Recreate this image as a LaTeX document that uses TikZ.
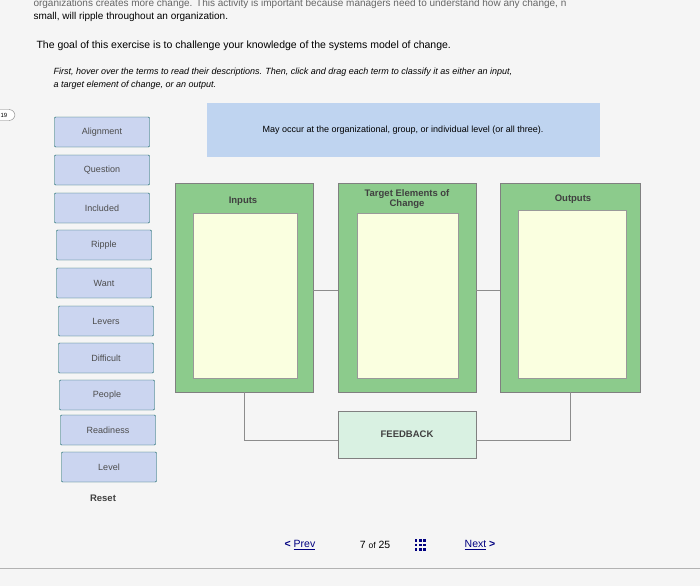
\documentclass[tikz,border=0pt]{standalone}
\usepackage{fontspec}
\setmainfont{Liberation Sans}
\begin{document}
\begin{tikzpicture}[x=1pt,y=-1pt,
  btn/.style={draw=teal!70!black,fill=cyan!45!blue!20!white,minimum width=95pt,minimum height=30pt,font=\fontsize{9}{10}\selectfont,text=black!70,rounded corners=1pt},
  col/.style={draw=black!50,fill=green!55!black!45!white,line width=0.8pt},
  inner/.style={draw=black!40,fill=green!15!yellow!12!white},
  lbl/.style={font=\bfseries\fontsize{9.5}{10}\selectfont,text=black!75,align=center},
  conn/.style={draw=black!45,line width=0.8pt}]
\fill[black!4] (0,0) rectangle (700,586);
\useasboundingbox (0,0) rectangle (700,586);
\node[anchor=west,font=\fontsize{10}{11}\selectfont,text=black!60] (t0) at (30,4) {organizations creates more change. This activity is important because managers need to understand how any change, n};
\node[anchor=west,font=\fontsize{10}{11}\selectfont] (t1) at (30,17) {small, will ripple throughout an organization.};
\node[anchor=west,font=\fontsize{10.5}{11}\selectfont] (t2) at (33,46) {The goal of this exercise is to challenge your knowledge of the systems model of change.};
\node[anchor=west,font=\itshape\fontsize{9}{13}\selectfont,align=left] (t3) at (50,79) {First, hover over the terms to read their descriptions. Then, click and drag each term to classify it as either an input,\\a target element of change, or an output.};
\node[draw=black!50,fill=white,rounded corners=6pt,font=\fontsize{6}{7}\selectfont,minimum width=22pt] (n19) at (4,115) {19};
\node[btn] (b1) at (102,132) {Alignment};
\node[btn] (b2) at (102,170) {Question};
\node[btn] (b3) at (102,208) {Included};
\node[btn] (b4) at (104,245) {Ripple};
\node[btn] (b5) at (104,283) {Want};
\node[btn] (b6) at (106,321) {Levers};
\node[btn] (b7) at (106,358) {Difficult};
\node[btn] (b8) at (107,395) {People};
\node[btn] (b9) at (108,430) {Readiness};
\node[btn] (b10) at (109,467) {Level};
\node[lbl] (reset) at (103,498) {Reset};
\node[fill=cyan!60!blue!25!white,minimum width=393pt,minimum height=54pt,font=\fontsize{9}{10}\selectfont] (desc) at (403,130) {May occur at the organizational, group, or individual level (or all three).};
\node[col,minimum width=138pt,minimum height=209pt] (inp) at (244,287.5) {};
\node[inner,minimum width=104pt,minimum height=165pt] (inpi) at (245,295.5) {};
\node[lbl] at (243,201) {Inputs};
\node[col,minimum width=138pt,minimum height=209pt] (tgt) at (407,287.5) {};
\node[inner,minimum width=101pt,minimum height=165pt] (tgti) at (407.5,295.5) {};
\node[lbl] at (407,199) {Target Elements of\\Change};
\node[col,minimum width=140pt,minimum height=209pt] (out) at (570,287.5) {};
\node[inner,minimum width=108pt,minimum height=168pt] (outi) at (572,294) {};
\node[lbl] at (573,199) {Outputs};
\node[draw=black!50,fill=cyan!25!green!15!white,minimum width=138pt,minimum height=47pt,lbl] (fb) at (407,434.5) {FEEDBACK};
\draw[conn] (inp.east |- 0,290) -- (tgt.west |- 0,290);
\draw[conn] (tgt.east |- 0,290) -- (out.west |- 0,290);
\draw[conn] (inp.south) |- (fb.west |- 0,440);
\draw[conn] (out.south) |- (fb.east |- 0,440);
\node[font=\fontsize{10.5}{11}\selectfont,text=blue!50!black] (prev) at (300,545) {\textbf{<}\ \underline{Prev}};
\node[font=\fontsize{10.5}{11}\selectfont] (pg) at (375,545) {7 {\fontsize{8.5}{9}\selectfont of} 25};
\node[minimum size=12pt,path picture={\foreach \i in {0,1,2}\foreach \j in {0,1,2}{\fill[blue!50!black] ([xshift=\i*4.2pt-5.5pt,yshift=\j*4.2pt-5.5pt]path picture bounding box.center) rectangle ++(2.8pt,2.8pt);}}] (grid) at (420,545) {};
\node[font=\fontsize{10.5}{11}\selectfont,text=blue!50!black] (next) at (480,545) {\underline{Next}\ \textbf{>}};
\draw[black!30] (0,568) -- (700,568);
\end{tikzpicture}
\end{document}
